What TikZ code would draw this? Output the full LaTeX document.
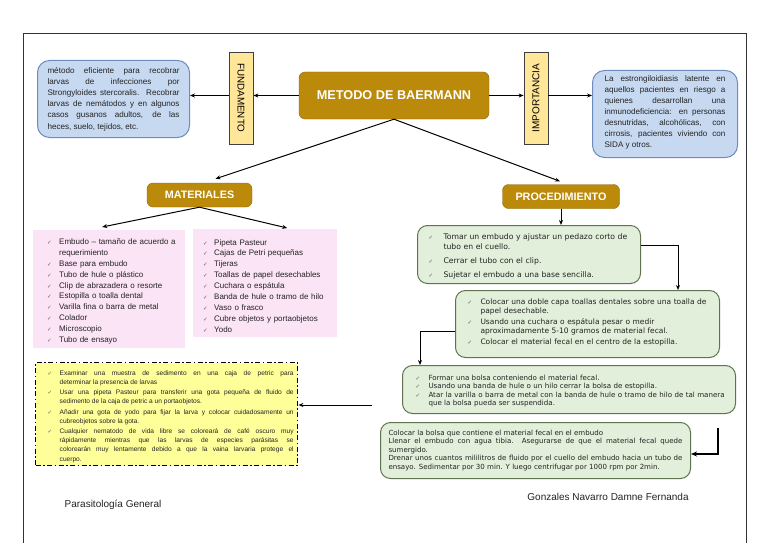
\documentclass[tikz,border=0pt]{standalone}
\usepackage{fontspec}
\setmainfont{Liberation Sans}
\newfontfamily\verd{DejaVu Sans}
\usetikzlibrary{arrows.meta,calc}
\definecolor{gold}{RGB}{187,138,10}
\definecolor{goldline}{RGB}{140,100,10}
\definecolor{paleyel}{RGB}{255,230,153}
\definecolor{blueF}{RGB}{198,217,241}
\definecolor{blueL}{RGB}{110,140,190}
\definecolor{pinkF}{RGB}{252,228,247}
\definecolor{greenF}{RGB}{226,239,218}
\definecolor{greenL}{RGB}{95,115,80}
\definecolor{yelF}{RGB}{255,255,153}
\definecolor{txt}{RGB}{35,35,35}
\newcommand{\ck}{{\verd\fontsize{5.5}{5.5}\selectfont\color{black!65}✓}}
\newcommand{\itm}[3]{\par\noindent\hangindent=#2pt\hangafter=1\hbox to #2pt{\hspace*{#1pt}\ck\hss}#3\par}
\newcommand{\nl}{\hfil\break}
\tikzset{
  goldbox/.style={draw=goldline, fill=gold, rounded corners=6pt, text=white, font=\bfseries},
  tagbox/.style={draw=black!75, fill=paleyel, line width=0.8pt, minimum width=24pt},
  bluebox/.style={draw=blueL, fill=blueF, line width=1pt, rounded corners=12pt, align=justify, text=txt, anchor=north west},
  pinkbox/.style={fill=pinkF, align=left, text=txt, anchor=north west, inner xsep=4pt},
  greenbox/.style={draw=greenL, fill=greenF, line width=1pt, rounded corners=10pt, align=left, text=txt, anchor=north west},
  arr/.style={-{Stealth[length=5pt,width=4pt]}, line width=1pt},
}
\begin{document}
\begin{tikzpicture}[x=1pt,y=-1pt]
\useasboundingbox (0,0) rectangle (768,543);
\draw[black!80, line width=0.8pt] (23,33) -- (23,543) (23,33) -- (746,33) -- (746,543);

% central
\node[goldbox, minimum width=190pt, minimum height=47pt, font=\bfseries\fontsize{12.7}{14}\selectfont] (metodo) at (394,95.5) {METODO DE BAERMANN};
\node[tagbox, minimum height=92pt] (fund) at (241,98) {};
\node[rotate=-90, font=\fontsize{9.8}{10}\selectfont] (fundt) at (fund.center) {FUNDAMENTO};
\node[tagbox, minimum height=92pt] (imp) at (536,98) {};
\node[rotate=90, font=\fontsize{10}{10}\selectfont] (impt) at (imp.center) {IMPORTANCIA};

\node[bluebox, text width=132pt, inner xsep=10pt, minimum height=77pt, font=\fontsize{8.1}{11.2}\selectfont] (bl) at (37,60) {%
método eficiente para recobrar\linebreak larvas de infecciones por\linebreak Strongyloides stercoralis. Recobrar\linebreak larvas de nemátodos y en algunos\linebreak casos gusanos adultos, de las\linebreak heces, suelo, tejidos, etc.};

\node[bluebox, text width=121pt, inner xsep=12pt, minimum height=87pt, font=\fontsize{8.1}{10.9}\selectfont] (br) at (592,70) {%
La estrongiloidiasis latente en\linebreak aquellos pacientes en riesgo a\linebreak quienes desarrollan una\linebreak inmunodeficiencia: en personas\linebreak desnutridas, alcohólicas, con\linebreak cirrosis, pacientes viviendo con\linebreak SIDA y otros.\vspace{3pt}};

\draw[arr] (metodo.west) -- (fund.east |- metodo.west);
\draw[arr] (fund.west |- metodo.west) -- (bl.east |- metodo.west);
\draw[arr] (metodo.east) -- (imp.west |- metodo.east);
\draw[arr] (imp.east |- metodo.east) -- (br.west |- metodo.east);

\node[goldbox, minimum width=105pt, minimum height=24pt, font=\bfseries\fontsize{10.8}{12}\selectfont] (mat) at (199.5,195) {MATERIALES};
\node[goldbox, minimum width=117pt, minimum height=24pt, font=\bfseries\fontsize{10.8}{12}\selectfont] (proc) at (561,196.5) {PROCEDIMIENTO};
\draw[arr] (metodo.south) -- ($(mat.north)+(16,-4)$);
\draw[arr] (metodo.south) -- ($(proc.north)+(-1,-3)$);

\node[pinkbox, text width=144pt, minimum height=115pt, font=\fontsize{8}{10.9}\selectfont] (pl) at (33,230) {%
\itm{10}{22}{Embudo – tamaño de acuerdo a\nl requerimiento}
\itm{10}{22}{Base para embudo}
\itm{10}{22}{Tubo de hule o plástico}
\itm{10}{22}{Clip de abrazadera o resorte}
\itm{10}{22}{Estopilla o toalla dental}
\itm{10}{22}{Varilla fina o barra de metal}
\itm{10}{22}{Colador}
\itm{10}{22}{Microscopio}
\itm{10}{22}{Tubo de ensayo}};
\node[pinkbox, text width=136pt, minimum height=108pt, font=\fontsize{8}{10.9}\selectfont] (pr) at (193,229) {%
\itm{6}{17}{Pipeta Pasteur}
\itm{6}{17}{Cajas de Petri pequeñas}
\itm{6}{17}{Tijeras}
\itm{6}{17}{Toallas de papel desechables}
\itm{6}{17}{Cuchara o espátula}
\itm{6}{17}{Banda de hule o tramo de hilo}
\itm{6}{17}{Vaso o frasco}
\itm{6}{17}{Cubre objetos y portaobjetos}
\itm{6}{17}{Yodo}};
\draw[arr] (mat.south) -- ($(pl.north)+(-7,-3)$);
\draw[arr] (mat.south) -- ($(pr.north)+(22,-1)$);

% procedure
\node[greenbox, text width=211pt, inner xsep=6pt, minimum height=58pt, font=\verd\fontsize{7.7}{10}\selectfont] (g1) at (417,225) {%
\itm{5}{20}{Tomar un embudo y ajustar un pedazo corto de\nl tubo en el cuello.}\vspace{4pt}
\itm{5}{20}{Cerrar el tubo con el clip.}\vspace{4pt}
\itm{5}{20}{Sujetar el embudo a una base sencilla.}};
\node[greenbox, text width=252pt, inner xsep=6pt, minimum height=67pt, font=\verd\fontsize{7.5}{9}\selectfont] (g2) at (455,290) {%
\itm{6}{19}{Colocar una doble capa toallas dentales sobre una toalla de\nl papel desechable.}\vspace{2pt}
\itm{6}{19}{Usando una cuchara o espátula pesar o medir\nl aproximadamente 5-10 gramos de material fecal.}\vspace{2pt}
\itm{6}{19}{Colocar el material fecal en el centro de la estopilla.}\vspace{6pt}};
\node[greenbox, text width=323pt, inner xsep=5pt, minimum height=48pt, font=\verd\fontsize{7.1}{8.4}\selectfont] (g3) at (402,365) {%
\itm{8}{21}{Formar una bolsa conteniendo el material fecal.}
\itm{8}{21}{Usando una banda de hule o un hilo cerrar la bolsa de estopilla.}
\itm{8}{21}{Atar la varilla o barra de metal con la banda de hule o tramo de hilo de tal manera\nl que la bolsa pueda ser suspendida.}};
\node[greenbox, align=justify, text width=294pt, inner xsep=8pt, minimum height=56pt, font=\verd\fontsize{7.05}{8.5}\selectfont] (g4) at (380,422) {%
Colocar la bolsa que contiene el material fecal en el embudo\par
Llenar el embudo con agua tibia. Asegurarse de que el material fecal quede\linebreak sumergido.\par
Drenar unos cuantos mililitros de fluido por el cuello del embudo hacia un tubo de\linebreak ensayo. Sedimentar por 30 min. Y luego centrifugar por 1000 rpm por 2min.};

\draw[arr] (proc.south) -- (proc.south |- g1.north);
\draw[arr] ($(g1.north east)+(0,20)$) -| ($(g2.north east)+(-42,0)$);
\draw[arr] ($(g2.south west)+(0,-27)$) -| ($(g3.north west)+(18,0)$);
\coordinate (c34) at (718,428);
\draw[-{Stealth[length=6pt,width=5pt]}, line width=2pt] (c34) -- (718,454) -- (g4.east |- 0,454);

% yellow
\node[draw=black, fill=yelF, line width=1.4pt, dash pattern=on 5pt off 2.5pt on 1.5pt off 2.5pt, anchor=north west, align=justify, text=txt, text width=254pt, inner xsep=4pt, minimum height=101pt, font=\fontsize{6.6}{9.2}\selectfont] (yb) at (35,362) {%
\itm{8}{20}{Examinar una muestra de sedimento en una caja de petric para\linebreak determinar la presencia de larvas}\vspace{1pt}
\itm{8}{20}{Usar una pipeta Pasteur para transferir una gota pequeña de fluido de\linebreak sedimento de la caja de petric a un portaobjetos.}\vspace{1pt}
\itm{8}{20}{Añadir una gota de yodo para fijar la larva y colocar cuidadosamente un\linebreak cubreobjetos sobre la gota.}\vspace{1pt}
\itm{8}{20}{Cualquier nematodo de vida libre se coloreará de café oscuro muy\linebreak rápidamente mientras que las larvas de especies parásitas se\linebreak colorearán muy lentamente debido a que la vaina larvaria protege el\linebreak cuerpo.}};
\coordinate (c4y) at (372,405);
\draw[arr] (c4y) -- (yb.east |- c4y);

\node[font=\fontsize{10}{12}\selectfont, text=txt] (pg) at (113,505) {Parasitología General};
\node[font=\fontsize{10}{12}\selectfont, text=txt] (au) at (608,497) {Gonzales Navarro Damne Fernanda};
\end{tikzpicture}
\end{document}
